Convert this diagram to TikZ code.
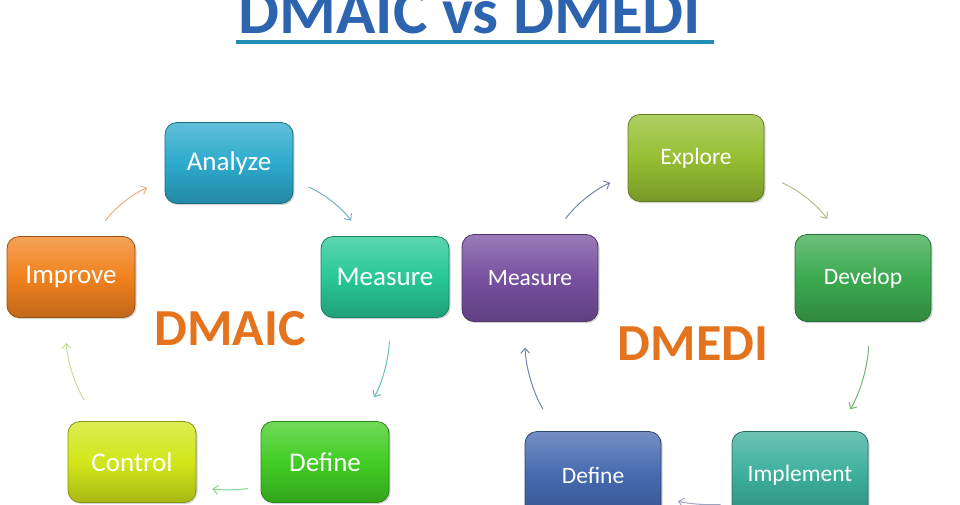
\documentclass[tikz,border=0pt]{standalone}
\usepackage{fontspec}
\setmainfont{Carlito}
\usetikzlibrary{shadows,arrows.meta}

\definecolor{titleblue}{RGB}{45,100,175}
\definecolor{lineblue}{RGB}{35,140,180}
\definecolor{labelorange}{RGB}{228,115,30}
\definecolor{cAnalyze}{RGB}{45,170,205}
\definecolor{cMeasureA}{RGB}{40,200,150}
\definecolor{cImprove}{RGB}{240,130,30}
\definecolor{cControl}{RGB}{210,230,25}
\definecolor{cDefineA}{RGB}{65,205,35}
\definecolor{cExplore}{RGB}{150,190,50}
\definecolor{cMeasureB}{RGB}{120,80,160}
\definecolor{cDevelop}{RGB}{60,170,80}
\definecolor{cDefineB}{RGB}{70,105,175}
\definecolor{cImplement}{RGB}{60,175,155}
\definecolor{aOrange}{RGB}{235,175,130}
\definecolor{aBlue}{RGB}{120,175,200}
\definecolor{aTeal}{RGB}{100,190,180}
\definecolor{aGreen}{RGB}{135,210,135}
\definecolor{aLime}{RGB}{200,222,150}
\definecolor{aSlate}{RGB}{115,135,170}
\definecolor{aOlive}{RGB}{175,190,140}
\definecolor{aLeaf}{RGB}{115,180,115}
\definecolor{aMist}{RGB}{155,165,190}

\tikzset{
  stepbox/.style={rounded corners=12pt, draw=#1!65!black, line width=0.8pt,
    top color=#1!75!white, bottom color=#1!80!black, middle color=#1,
    text=white, drop shadow={opacity=0.35, shadow xshift=1.5pt, shadow yshift=-1.5pt}},
  dmaicbox/.style={stepbox=#1, minimum width=128pt, minimum height=81pt,
    font=\fontsize{27}{27}\selectfont},
  dmedibox/.style={stepbox=#1, minimum width=136pt, minimum height=87pt,
    font=\fontsize{23.5}{24}\selectfont},
  flow/.style={-{Straight Barb[length=5pt,width=9pt]}, line width=1pt, draw=#1},
  bigname/.style={text=labelorange, font=\bfseries\fontsize{52}{52}\selectfont, anchor=base}
}

\begin{document}
\begin{tikzpicture}[x=1pt,y=-1pt]

    \useasboundingbox (0,0) rectangle (960,504);
    \clip (0,0) rectangle (960,504);

    \node[text=titleblue, font=\bfseries\fontsize{65}{65}\selectfont, anchor=base] (title) at (470,33) {DMAIC vs DMEDI};
    \draw[lineblue, line width=3.5pt] (236,42) -- (714,42);

    % DMAIC
    \node[dmaicbox=cAnalyze]  (analyze)  at (229,163) {Analyze};
    \node[dmaicbox=cMeasureA] (measureA) at (385,277) {Measure};
    \node[dmaicbox=cImprove]  (improve)  at (71,277)  {Improve};
    \node[dmaicbox=cControl]  (control)  at (132,462) {Control};
    \node[dmaicbox=cDefineA]  (defineA)  at (325,462) {Define};
    \node[bigname] (dmaic) at (230,345) {DMAIC};

    \draw[flow=aOrange, shorten <=19pt, shorten >=19pt] (improve.61) to[bend left=15] (analyze.195);
    \draw[flow=aBlue, shorten <=16.5pt, shorten >=19pt] (analyze.345) to[bend left=15] (measureA.119);
    \draw[flow=aTeal, shorten <=23pt, shorten >=28pt] (measureA.277) to[bend left=15] (defineA.50);
    \draw[flow=aGreen, shorten <=13pt, shorten >=16pt] (defineA.201) to[bend left=8] (control.339);
    \draw[flow=aLime, shorten <=25pt, shorten >=25pt] (control.130) to[bend left=15] (improve.262);

    % DMEDI
    \node[dmedibox=cExplore]   (explore)   at (696,158) {Explore};
    \node[dmedibox=cMeasureB]  (measureB)  at (530,278) {Measure};
    \node[dmedibox=cDevelop]   (develop)   at (863,278) {Develop};
    \node[dmedibox=cDefineB]   (defineB)   at (593,475) {Define};
    \node[dmedibox=cImplement] (implement) at (800,475) {Implement};
    \node[bigname] (dmedi) at (693,360) {DMEDI};

    \draw[flow=aSlate, shorten <=19pt, shorten >=19pt] (measureB.61) to[bend left=15] (explore.194);
    \draw[flow=aOlive, shorten <=19pt, shorten >=19pt] (explore.346) to[bend left=15] (develop.119);
    \draw[flow=aLeaf, shorten <=24pt, shorten >=25.5pt] (develop.278) to[bend left=15] (implement.50);
    \draw[flow=aMist, shorten <=11pt, shorten >=17pt] (implement.203) to[bend left=8] (defineB.342);
    \draw[flow=aSlate, shorten <=25.5pt, shorten >=25.7pt] (defineB.130) to[bend left=15] (measureB.263);

\end{tikzpicture}
\end{document}
